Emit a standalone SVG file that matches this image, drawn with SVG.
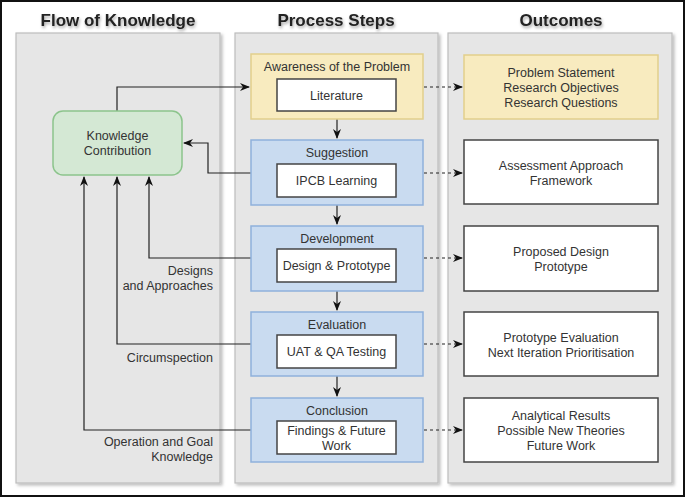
<svg xmlns="http://www.w3.org/2000/svg" width="685" height="497" viewBox="0 0 685 497">
<defs>
<filter id="sh" x="-5%" y="-5%" width="115%" height="115%">
<feDropShadow dx="2" dy="2" stdDeviation="1.5" flood-color="#000" flood-opacity="0.25"/>
</filter>
<filter id="tsh" x="-10%" y="-30%" width="120%" height="180%">
<feDropShadow dx="1" dy="2" stdDeviation="1.5" flood-color="#000" flood-opacity="0.35"/>
</filter>
<marker id="ah" viewBox="0 0 10 10" refX="9" refY="5" markerWidth="10" markerHeight="10" markerUnits="userSpaceOnUse" orient="auto">
<path d="M0,1 L10,5 L0,9 L3,5 Z" fill="#111"/>
</marker>
</defs>
<style>
.panel{fill:#e6e6e6;stroke:#bdbdbd;stroke-width:1.2}
.title{font-family:"Liberation Sans",Arial,sans-serif;font-weight:bold;font-size:17px;fill:#222;text-anchor:middle}
.t{font-family:"Liberation Sans",Arial,sans-serif;font-size:12.5px;fill:#333;text-anchor:middle}
.tr{font-family:"Liberation Sans",Arial,sans-serif;font-size:12.5px;fill:#333;text-anchor:end}
.yel{fill:#f8ebbf;stroke:#e2cf8c;stroke-width:1.5}
.blu{fill:#c9dbf0;stroke:#8fb1dc;stroke-width:1.5}
.grn{fill:#d4e8d4;stroke:#8cc48c;stroke-width:1.5}
.inner{fill:#fff;stroke:#444;stroke-width:1.5}
.out{fill:#fff;stroke:#444;stroke-width:1.5}
.c{fill:none;stroke:#222;stroke-width:1.2}
.d{fill:none;stroke:#222;stroke-width:1.2;stroke-dasharray:3,3}
</style>
<rect x="0" y="0" width="685" height="497" fill="#fff"/>
<rect x="1" y="1" width="683" height="495" fill="none" stroke="#111" stroke-width="2"/>

<g id="panels">
<rect class="panel" x="16" y="33" width="204" height="450" filter="url(#sh)"/>
<rect class="panel" x="235" y="33" width="203" height="450" filter="url(#sh)"/>
<rect class="panel" x="448" y="33" width="224" height="450" filter="url(#sh)"/>
<text class="title" x="118" y="26" filter="url(#tsh)">Flow of Knowledge</text>
<text class="title" x="336" y="26" filter="url(#tsh)">Process Steps</text>
<text class="title" x="561" y="26" filter="url(#tsh)">Outcomes</text>
</g>

<g id="connectors">
<path class="c" d="M117,111 V87 H249" marker-end="url(#ah)"/>
<path class="c" d="M251,173 H208 V143 H184" marker-end="url(#ah)"/>
<path class="c" d="M251,258 H149 V177" marker-end="url(#ah)"/>
<path class="c" d="M251,344 H117 V177" marker-end="url(#ah)"/>
<path class="c" d="M251,430 H84 V177" marker-end="url(#ah)"/>
<path class="c" d="M337,119 V138" marker-end="url(#ah)"/>
<path class="c" d="M337,205 V224" marker-end="url(#ah)"/>
<path class="c" d="M337,291 V310" marker-end="url(#ah)"/>
<path class="c" d="M337,376 V396" marker-end="url(#ah)"/>
<path class="d" d="M424,87 H462" marker-end="url(#ah)"/>
<path class="d" d="M424,173 H462" marker-end="url(#ah)"/>
<path class="d" d="M424,258 H462" marker-end="url(#ah)"/>
<path class="d" d="M424,344 H462" marker-end="url(#ah)"/>
<path class="d" d="M424,430 H462" marker-end="url(#ah)"/>
<text class="tr" x="213" y="275">Designs</text>
<text class="tr" x="213" y="290">and Approaches</text>
<text class="tr" x="213" y="362">Circumspection</text>
<text class="tr" x="213" y="446">Operation and Goal</text>
<text class="tr" x="213" y="461">Knowledge</text>
</g>

<g id="knowledge-contribution">
<rect class="grn" x="53" y="111" width="129" height="64" rx="10"/>
<text class="t" x="117.5" y="140">Knowledge</text>
<text class="t" x="117.5" y="155">Contribution</text>
</g>

<g id="awareness">
<rect class="yel" x="251" y="54" width="172" height="65"/>
<text class="t" x="337" y="71">Awareness of the Problem</text>
<rect class="inner" x="277" y="79" width="119" height="32"/>
<text class="t" x="336.5" y="99.5">Literature</text>
</g>

<g id="suggestion">
<rect class="blu" x="251" y="140" width="172" height="65"/>
<text class="t" x="337" y="157">Suggestion</text>
<rect class="inner" x="277" y="164" width="119" height="33"/>
<text class="t" x="336.5" y="185">IPCB Learning</text>
</g>

<g id="development">
<rect class="blu" x="251" y="226" width="172" height="65"/>
<text class="t" x="337" y="243">Development</text>
<rect class="inner" x="277" y="249" width="119" height="33"/>
<text class="t" x="336.5" y="270">Design &amp; Prototype</text>
</g>

<g id="evaluation">
<rect class="blu" x="251" y="312" width="172" height="64"/>
<text class="t" x="337" y="329">Evaluation</text>
<rect class="inner" x="277" y="335" width="119" height="33"/>
<text class="t" x="336.5" y="356">UAT &amp; QA Testing</text>
</g>

<g id="conclusion">
<rect class="blu" x="251" y="398" width="172" height="64"/>
<text class="t" x="337" y="415">Conclusion</text>
<rect class="inner" x="277" y="421" width="119" height="33"/>
<text class="t" x="336.5" y="435">Findings &amp; Future</text>
<text class="t" x="336.5" y="450">Work</text>
</g>

<g id="outcome-1">
<rect class="yel" x="464" y="55" width="194" height="64"/>
<text class="t" x="561" y="77">Problem Statement</text>
<text class="t" x="561" y="92">Research Objectives</text>
<text class="t" x="561" y="107">Research Questions</text>
</g>

<g id="outcome-2">
<rect class="out" x="464" y="140" width="194" height="64"/>
<text class="t" x="561" y="170">Assessment Approach</text>
<text class="t" x="561" y="185">Framework</text>
</g>

<g id="outcome-3">
<rect class="out" x="464" y="226" width="194" height="65"/>
<text class="t" x="561" y="256">Proposed Design</text>
<text class="t" x="561" y="271">Prototype</text>
</g>

<g id="outcome-4">
<rect class="out" x="464" y="312" width="194" height="64"/>
<text class="t" x="561" y="342">Prototype Evaluation</text>
<text class="t" x="561" y="357">Next Iteration Prioritisation</text>
</g>

<g id="outcome-5">
<rect class="out" x="464" y="398" width="194" height="64"/>
<text class="t" x="561" y="420">Analytical Results</text>
<text class="t" x="561" y="435">Possible New Theories</text>
<text class="t" x="561" y="450">Future Work</text>
</g>
</svg>
